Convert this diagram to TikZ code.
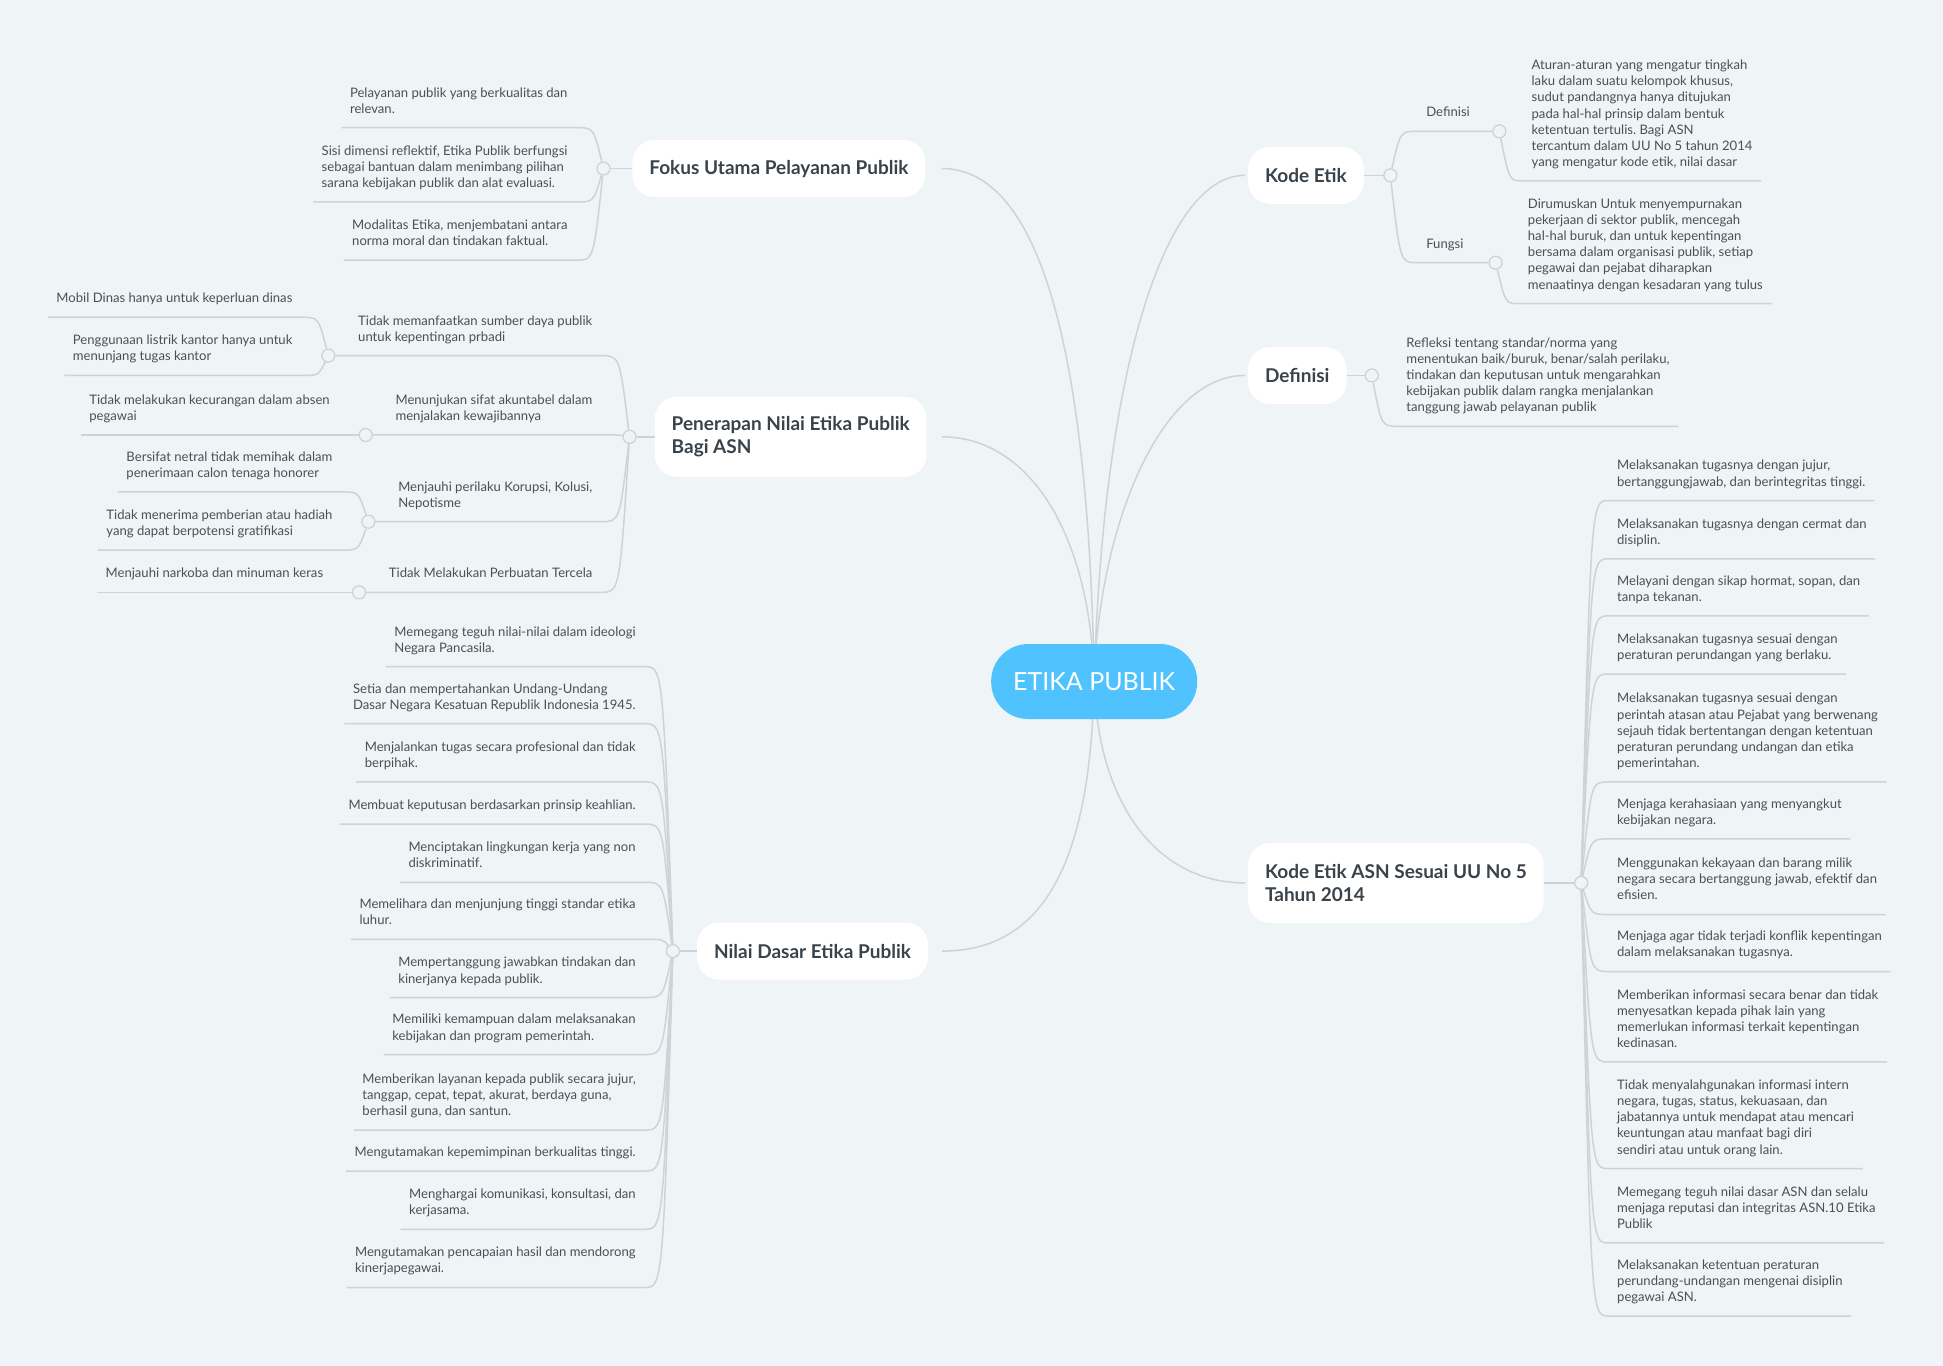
\documentclass[tikz,border=0pt]{standalone}
\usepackage{fontspec}
\setmainfont{Lato}
\usetikzlibrary{positioning,calc}
\frenchspacing

\definecolor{bgcol}{HTML}{EFF4F7}
\definecolor{linegray}{HTML}{CFD3D7}
\definecolor{rootblue}{HTML}{50C3FE}
\definecolor{topictext}{HTML}{3A424A}
\definecolor{leaftext}{HTML}{4B5057}

\begin{document}
\begin{tikzpicture}[
    x=1.239pt, y=-1.239pt,
    every node/.style={font=\fontsize{13.1}{16.1}\selectfont},
    rootbox/.style={
        fill=rootblue,
        text=white,
        rounded corners=37pt,
        minimum width=206pt,
        minimum height=75pt,
        font=\fontsize{25}{29}\selectfont
    },
    topic/.style={
        fill=white,
        rounded corners=22pt,
        text=topictext,
        align=left,
        inner xsep=17pt,
        minimum height=57pt,
        font=\fontsize{19}{23.5}\selectfont\bfseries
    },
    leaf/.style={
        text=leaftext,
        align=left,
        inner xsep=8.5pt,
        inner ysep=9.5pt,
        execute at end node=\strut
    },
    dot/.style={
        circle,
        draw=linegray,
        fill=bgcol,
        line width=1.3pt,
        minimum size=13pt,
        inner sep=0pt
    },
    limb/.style={draw=linegray, line width=1.5pt},
    twig/.style={draw=linegray, line width=1.5pt}
]

    % page
    \fill[bgcol] (0,0) rectangle (1568,1102);
    \useasboundingbox (0,0) rectangle (1568,1102);

    \coordinate (root) at (883,550);

    % main topics
    \node[topic, anchor=east] (fokus) at (747,136) {Fokus Utama Pelayanan Publik};
    \node[topic, anchor=east, minimum height=80pt] (terap) at (748,352.5) {Penerapan Nilai Etika Publik\\Bagi ASN};
    \node[topic, anchor=east] (nilai) at (749,767.5) {Nilai Dasar Etika Publik};
    \node[topic, anchor=west] (kode) at (1007,141.5) {Kode Etik};
    \node[topic, anchor=west] (defn) at (1007,303) {Definisi};
    \node[topic, anchor=west, minimum height=80pt] (kasn) at (1007,712.5) {Kode Etik ASN Sesuai UU No 5\\Tahun 2014};

    % junctions
    \node[dot] (jfokus) at (487,136) {};
    \node[dot] (jterap) at (508,352.5) {};
    \node[dot] (jnilai) at (543,767.5) {};
    \node[dot] (jkode) at (1122,141.5) {};
    \node[dot] (jdefn) at (1107,303) {};
    \node[dot] (jkasn) at (1276,712.5) {};

    % Fokus Utama Pelayanan Publik
    \node[leaf, anchor=south east] (f1) at (465,103) {Pelayanan publik yang berkualitas dan\\relevan.};
    \node[leaf, anchor=south east] (f2) at (465,163) {Sisi dimensi reflektif, Etika Publik berfungsi\\sebagai bantuan dalam menimbang pilihan\\sarana kebijakan publik dan alat evaluasi.};
    \node[leaf, anchor=south east] (f3) at (465,210) {Modalitas Etika, menjembatani antara\\norma moral dan tindakan faktual.};

    % Penerapan Nilai Etika Publik Bagi ASN
    \node[leaf, anchor=south east] (ta) at (485,287) {Tidak memanfaatkan sumber daya publik\\untuk kepentingan prbadi};
    \node[leaf, anchor=south east] (tb) at (485,351) {Menunjukan sifat akuntabel dalam\\menjalakan kewajibannya};
    \node[leaf, anchor=south east] (tc) at (485,421) {Menjauhi perilaku Korupsi, Kolusi,\\Nepotisme};
    \node[leaf, anchor=south east] (td) at (485,478) {Tidak Melakukan Perbuatan Tercela};

    \node[dot, left=14pt of ta.south west] (jta) {};
    \node[dot, left=14pt of tb.south west] (jtb) {};
    \node[dot, left=14pt of tc.south west] (jtc) {};
    \node[dot, left=14pt of td.south west] (jtd) {};

    \node[leaf, anchor=south east] (ta1) at ($(jta)+(-22,-31)$) {Mobil Dinas hanya untuk keperluan dinas};
    \node[leaf, anchor=south east] (ta2) at ($(jta)+(-22,16)$) {Penggunaan listrik kantor hanya untuk\\menunjang tugas kantor};
    \node[leaf, anchor=south east] (tb1) at ($(jtb)+(-22,0)$) {Tidak melakukan kecurangan dalam absen\\pegawai};
    \node[leaf, anchor=south east] (tc1) at ($(jtc)+(-22,-24)$) {Bersifat netral tidak memihak dalam\\penerimaan calon tenaga honorer};
    \node[leaf, anchor=south east] (tc2) at ($(jtc)+(-22,23)$) {Tidak menerima pemberian atau hadiah\\yang dapat berpotensi gratifikasi};
    \node[leaf, anchor=south east] (td1) at ($(jtd)+(-22,0)$) {Menjauhi narkoba dan minuman keras};

    % Nilai Dasar Etika Publik
    \node[leaf, anchor=south east] (n1) at (520,538) {Memegang teguh nilai-nilai dalam ideologi\\Negara Pancasila.};
    \node[leaf, anchor=south east] (n2) at (520,584) {Setia dan mempertahankan Undang-Undang\\Dasar Negara Kesatuan Republik Indonesia 1945.};
    \node[leaf, anchor=south east] (n3) at (520,631) {Menjalankan tugas secara profesional dan tidak\\berpihak.};
    \node[leaf, anchor=south east] (n4) at (520,665) {Membuat keputusan berdasarkan prinsip keahlian.};
    \node[leaf, anchor=south east] (n5) at (520,712) {Menciptakan lingkungan kerja yang non\\diskriminatif.};
    \node[leaf, anchor=south east] (n6) at (520,758) {Memelihara dan menjunjung tinggi standar etika\\luhur.};
    \node[leaf, anchor=south east] (n7) at (520,805) {Mempertanggung jawabkan tindakan dan\\kinerjanya kepada publik.};
    \node[leaf, anchor=south east] (n8) at (520,851) {Memiliki kemampuan dalam melaksanakan\\kebijakan dan program pemerintah.};
    \node[leaf, anchor=south east] (n9) at (520,912) {Memberikan layanan kepada publik secara jujur,\\tanggap, cepat, tepat, akurat, berdaya guna,\\berhasil guna, dan santun.};
    \node[leaf, anchor=south east] (n10) at (520,945) {Mengutamakan kepemimpinan berkualitas tinggi.};
    \node[leaf, anchor=south east] (n11) at (520,992) {Menghargai komunikasi, konsultasi, dan\\kerjasama.};
    \node[leaf, anchor=south east] (n12) at (520,1039) {Mengutamakan pencapaian hasil dan mendorong\\kinerjapegawai.};

    % Kode Etik
    \node[leaf, anchor=south west] (kdef) at (1144,106) {Definisi};
    \node[dot] (jkdef) at (1210,106) {};
    \node[leaf, anchor=south west] (kdef1) at (1229,146) {Aturan-aturan yang mengatur tingkah\\laku dalam suatu kelompok khusus,\\sudut pandangnya hanya ditujukan\\pada hal-hal prinsip dalam bentuk\\ketentuan tertulis. Bagi ASN\\tercantum dalam UU No 5 tahun 2014\\yang mengatur kode etik, nilai dasar};
    \node[leaf, anchor=south west] (kfun) at (1144,212) {Fungsi};
    \node[dot] (jkfun) at (1207,212) {};
    \node[leaf, anchor=south west] (kfun1) at (1226,245) {Dirumuskan Untuk menyempurnakan\\pekerjaan di sektor publik, mencegah\\hal-hal buruk, dan untuk kepentingan\\bersama dalam organisasi publik, setiap\\pegawai dan pejabat diharapkan\\menaatinya dengan kesadaran yang tulus};

    % Definisi
    \node[leaf, anchor=south west] (d1) at (1128,344) {Refleksi tentang standar/norma yang\\menentukan baik/buruk, benar/salah perilaku,\\tindakan dan keputusan untuk mengarahkan\\kebijakan publik dalam rangka menjalankan\\tanggung jawab pelayanan publik};

    % Kode Etik ASN
    \node[leaf, anchor=south west] (a1) at (1298,404) {Melaksanakan tugasnya dengan jujur,\\bertanggungjawab, dan berintegritas tinggi.};
    \node[leaf, anchor=south west] (a2) at (1298,451) {Melaksanakan tugasnya dengan cermat dan\\disiplin.};
    \node[leaf, anchor=south west] (a3) at (1298,497) {Melayani dengan sikap hormat, sopan, dan\\tanpa tekanan.};
    \node[leaf, anchor=south west] (a4) at (1298,544) {Melaksanakan tugasnya sesuai dengan\\peraturan perundangan yang berlaku.};
    \node[leaf, anchor=south west] (a5) at (1298,631) {Melaksanakan tugasnya sesuai dengan\\perintah atasan atau Pejabat yang berwenang\\sejauh tidak bertentangan dengan ketentuan\\peraturan perundang undangan dan etika\\pemerintahan.};
    \node[leaf, anchor=south west] (a6) at (1298,677) {Menjaga kerahasiaan yang menyangkut\\kebijakan negara.};
    \node[leaf, anchor=south west] (a7) at (1298,738) {Menggunakan kekayaan dan barang milik\\negara secara bertanggung jawab, efektif dan\\efisien.};
    \node[leaf, anchor=south west] (a8) at (1298,784) {Menjaga agar tidak terjadi konflik kepentingan\\dalam melaksanakan tugasnya.};
    \node[leaf, anchor=south west] (a9) at (1298,857) {Memberikan informasi secara benar dan tidak\\menyesatkan kepada pihak lain yang\\memerlukan informasi terkait kepentingan\\kedinasan.};
    \node[leaf, anchor=south west] (a10) at (1298,943) {Tidak menyalahgunakan informasi intern\\negara, tugas, status, kekuasaan, dan\\jabatannya untuk mendapat atau mencari\\keuntungan atau manfaat bagi diri\\sendiri atau untuk orang lain.};
    \node[leaf, anchor=south west] (a11) at (1298,1003) {Memegang teguh nilai dasar ASN dan selalu\\menjaga reputasi dan integritas ASN.10 Etika\\Publik};
    \node[leaf, anchor=south west] (a12) at (1298,1062) {Melaksanakan ketentuan peraturan\\perundang-undangan mengenai disiplin\\pegawai ASN.};

    % limbs from the root
    \draw[limb] (root) .. controls +(-5,-300) and +(70,0) .. ([xshift=16pt]fokus.east);
    \draw[limb] (root) .. controls +(-3,-120) and +(70,0) .. ([xshift=15pt]terap.east);
    \draw[limb] (root) .. controls +(-3,150) and +(80,0) .. ([xshift=14pt]nilai.east);
    \draw[limb] (root) .. controls +(7,-250) and +(-65,0) .. ([xshift=-3pt]kode.west);
    \draw[limb] (root) .. controls +(3,-120) and +(-70,0) .. ([xshift=-3pt]defn.west);
    \draw[limb] (root) .. controls +(3,100) and +(-70,0) .. ([xshift=-3pt]kasn.west);

    \node[rootbox] (etika) at (root) {ETIKA PUBLIK};

    % topic to junction
    \draw[twig] (jfokus) -- (fokus);
    \draw[twig] (jterap) -- (terap);
    \draw[twig] (jnilai) -- (nilai);
    \draw[twig] (jkode) -- (kode);
    \draw[twig] (jdefn) -- (defn);
    \draw[twig] (jkasn) -- (kasn);

    % Fokus branches
    \draw[twig] (jfokus) .. controls ($(jfokus |- f1.south east)+(-8,0)$) .. (f1.south east) -- (f1.south west);
    \draw[twig] (jfokus) .. controls ($(jfokus |- f2.south east)+(-8,0)$) .. (f2.south east) -- (f2.south west);
    \draw[twig] (jfokus) .. controls ($(jfokus |- f3.south east)+(-8,0)$) .. (f3.south east) -- (f3.south west);

    % Penerapan branches
    \draw[twig] (jterap) .. controls ($(jterap |- ta.south east)+(-8,0)$) .. (ta.south east) -- (jta);
    \draw[twig] (jterap) .. controls ($(jterap |- tb.south east)+(-8,0)$) .. (tb.south east) -- (jtb);
    \draw[twig] (jterap) .. controls ($(jterap |- tc.south east)+(-8,0)$) .. (tc.south east) -- (jtc);
    \draw[twig] (jterap) .. controls ($(jterap |- td.south east)+(-8,0)$) .. (td.south east) -- (jtd);
    \draw[twig] (jta) .. controls ($(jta |- ta1.south east)+(-8,0)$) .. (ta1.south east) -- (ta1.south west);
    \draw[twig] (jta) .. controls ($(jta |- ta2.south east)+(-8,0)$) .. (ta2.south east) -- (ta2.south west);
    \draw[twig] (jtb) -- (tb1.south east) -- (tb1.south west);
    \draw[twig] (jtc) .. controls ($(jtc |- tc1.south east)+(-8,0)$) .. (tc1.south east) -- (tc1.south west);
    \draw[twig] (jtc) .. controls ($(jtc |- tc2.south east)+(-8,0)$) .. (tc2.south east) -- (tc2.south west);
    \draw[twig] (jtd) -- (td1.south east) -- (td1.south west);

    % Nilai Dasar branches
    \draw[twig] (jnilai) .. controls ($(jnilai |- n1.south east)+(-8,0)$) .. (n1.south east) -- (n1.south west);
    \draw[twig] (jnilai) .. controls ($(jnilai |- n2.south east)+(-8,0)$) .. (n2.south east) -- (n2.south west);
    \draw[twig] (jnilai) .. controls ($(jnilai |- n3.south east)+(-8,0)$) .. (n3.south east) -- (n3.south west);
    \draw[twig] (jnilai) .. controls ($(jnilai |- n4.south east)+(-8,0)$) .. (n4.south east) -- (n4.south west);
    \draw[twig] (jnilai) .. controls ($(jnilai |- n5.south east)+(-8,0)$) .. (n5.south east) -- (n5.south west);
    \draw[twig] (jnilai) .. controls ($(jnilai |- n6.south east)+(-8,0)$) .. (n6.south east) -- (n6.south west);
    \draw[twig] (jnilai) .. controls ($(jnilai |- n7.south east)+(-8,0)$) .. (n7.south east) -- (n7.south west);
    \draw[twig] (jnilai) .. controls ($(jnilai |- n8.south east)+(-8,0)$) .. (n8.south east) -- (n8.south west);
    \draw[twig] (jnilai) .. controls ($(jnilai |- n9.south east)+(-8,0)$) .. (n9.south east) -- (n9.south west);
    \draw[twig] (jnilai) .. controls ($(jnilai |- n10.south east)+(-8,0)$) .. (n10.south east) -- (n10.south west);
    \draw[twig] (jnilai) .. controls ($(jnilai |- n11.south east)+(-8,0)$) .. (n11.south east) -- (n11.south west);
    \draw[twig] (jnilai) .. controls ($(jnilai |- n12.south east)+(-8,0)$) .. (n12.south east) -- (n12.south west);

    % Kode Etik branches
    \draw[twig] (jkode) .. controls ($(jkode |- kdef.south west)+(8,0)$) .. (kdef.south west) -- (jkdef);
    \draw[twig] (jkode) .. controls ($(jkode |- kfun.south west)+(8,0)$) .. (kfun.south west) -- (jkfun);
    \draw[twig] (jkdef) .. controls ($(jkdef |- kdef1.south west)+(8,0)$) .. (kdef1.south west) -- (kdef1.south east);
    \draw[twig] (jkfun) .. controls ($(jkfun |- kfun1.south west)+(8,0)$) .. (kfun1.south west) -- (kfun1.south east);

    % Definisi branch
    \draw[twig] (jdefn) .. controls ($(jdefn |- d1.south west)+(8,0)$) .. (d1.south west) -- (d1.south east);

    % Kode Etik ASN branches
    \draw[twig] (jkasn) .. controls ($(jkasn |- a1.south west)+(8,0)$) .. (a1.south west) -- (a1.south east);
    \draw[twig] (jkasn) .. controls ($(jkasn |- a2.south west)+(8,0)$) .. (a2.south west) -- (a2.south east);
    \draw[twig] (jkasn) .. controls ($(jkasn |- a3.south west)+(8,0)$) .. (a3.south west) -- (a3.south east);
    \draw[twig] (jkasn) .. controls ($(jkasn |- a4.south west)+(8,0)$) .. (a4.south west) -- (a4.south east);
    \draw[twig] (jkasn) .. controls ($(jkasn |- a5.south west)+(8,0)$) .. (a5.south west) -- (a5.south east);
    \draw[twig] (jkasn) .. controls ($(jkasn |- a6.south west)+(8,0)$) .. (a6.south west) -- (a6.south east);
    \draw[twig] (jkasn) .. controls ($(jkasn |- a7.south west)+(8,0)$) .. (a7.south west) -- (a7.south east);
    \draw[twig] (jkasn) .. controls ($(jkasn |- a8.south west)+(8,0)$) .. (a8.south west) -- (a8.south east);
    \draw[twig] (jkasn) .. controls ($(jkasn |- a9.south west)+(8,0)$) .. (a9.south west) -- (a9.south east);
    \draw[twig] (jkasn) .. controls ($(jkasn |- a10.south west)+(8,0)$) .. (a10.south west) -- (a10.south east);
    \draw[twig] (jkasn) .. controls ($(jkasn |- a11.south west)+(8,0)$) .. (a11.south west) -- (a11.south east);
    \draw[twig] (jkasn) .. controls ($(jkasn |- a12.south west)+(8,0)$) .. (a12.south west) -- (a12.south east);

\end{tikzpicture}
\end{document}
